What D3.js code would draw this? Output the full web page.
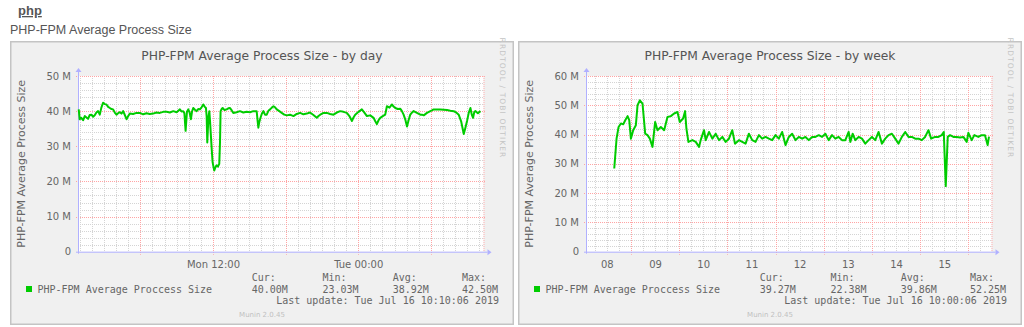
<!DOCTYPE html>
<html>
<head>
<meta charset="utf-8">
<script src="https://cdn.jsdelivr.net/npm/d3@7"></script>
<style>
  html, body { margin: 0; padding: 0; background: #ffffff; }
  svg { display: block; }
</style>
</head>
<body>
<svg id="chart" width="1024" height="327"></svg>
<script>
// ---------------- DATA ----------------
const pageTitle = "php";
const pageSubtitle = "PHP-FPM Average Process Size";
const seriesName = "PHP-FPM Average Proccess Size";
const yAxisTitle = "PHP-FPM Average Process Size";

// Day graph: hours since Mon 00:00, values in M
const dayTimes = [0.91, 0.99, 1.13, 1.27, 1.41, 1.55, 1.68, 1.82, 1.96, 2.10, 2.23, 2.37, 2.51, 2.65, 2.78, 2.92, 3.06, 3.20, 3.34, 3.48, 3.62, 3.75, 3.89, 4.03, 4.16, 4.30, 4.44, 4.58, 4.72, 4.86, 5.00, 5.13, 5.40, 5.68, 5.96, 6.23, 6.51, 6.78, 7.06, 7.33, 7.61, 7.89, 8.17, 8.44, 8.72, 9.00, 9.27, 9.40, 9.54, 9.64, 9.74, 9.85, 9.96, 10.07, 10.18, 10.27, 10.37, 10.51, 10.65, 10.78, 10.92, 11.06, 11.20, 11.31, 11.42, 11.48, 11.53, 11.62, 11.70, 11.76, 11.83, 11.90, 11.97, 12.04, 12.11, 12.20, 12.30, 12.41, 12.52, 12.58, 12.63, 12.72, 12.80, 12.96, 13.13, 13.27, 13.41, 13.55, 13.68, 13.96, 14.23, 14.51, 14.78, 15.06, 15.33, 15.61, 15.68, 15.75, 15.82, 15.89, 16.03, 16.17, 16.30, 16.44, 16.58, 16.72, 16.86, 17.00, 17.13, 17.27, 17.48, 17.68, 17.89, 18.10, 18.37, 18.65, 18.92, 19.20, 19.47, 19.75, 20.02, 20.30, 20.58, 20.72, 20.86, 21.13, 21.41, 21.68, 21.96, 22.23, 22.51, 22.78, 23.06, 23.27, 23.48, 23.61, 23.75, 24.03, 24.30, 24.51, 24.72, 24.99, 25.27, 25.40, 25.54, 25.68, 25.82, 26.03, 26.23, 26.30, 26.37, 26.58, 26.79, 26.92, 27.06, 27.27, 27.48, 27.61, 27.75, 27.89, 28.03, 28.16, 28.30, 28.44, 28.58, 28.85, 29.13, 29.27, 29.41, 29.68, 29.96, 30.09, 30.23, 30.51, 30.79, 31.06, 31.34, 31.61, 31.89, 32.10, 32.30, 32.51, 32.72, 32.85, 32.99, 33.13, 33.27, 33.38, 33.49, 33.59, 33.68, 33.89, 34.10];
const dayValues = [40.5, 37.7, 38.1, 37.4, 38.6, 38.2, 37.8, 38.9, 39.0, 38.4, 38.8, 39.6, 40.0, 39.0, 41.0, 42.4, 42.0, 41.9, 41.2, 40.9, 40.6, 40.5, 39.6, 39.0, 39.4, 39.7, 39.3, 40.0, 38.9, 37.7, 38.6, 39.3, 39.2, 39.5, 39.5, 39.1, 39.4, 39.2, 39.3, 39.6, 39.5, 39.8, 39.8, 39.6, 40.0, 39.7, 40.5, 39.9, 40.0, 39.4, 34.4, 39.8, 40.5, 39.6, 37.7, 39.9, 40.9, 40.4, 40.0, 40.6, 40.5, 41.1, 41.9, 41.3, 40.9, 38.5, 31.1, 38.0, 40.0, 37.0, 33.0, 29.0, 25.5, 24.2, 23.1, 24.0, 24.6, 24.2, 25.0, 31.0, 40.0, 40.6, 40.9, 40.3, 40.5, 40.8, 40.9, 40.2, 39.5, 39.7, 40.0, 39.6, 39.8, 39.7, 40.0, 40.0, 37.5, 35.3, 36.8, 37.7, 39.2, 40.0, 39.0, 39.0, 40.1, 40.5, 41.0, 41.4, 41.1, 40.5, 40.0, 39.5, 39.0, 38.8, 39.0, 38.6, 39.2, 39.5, 39.1, 39.3, 39.6, 38.9, 38.1, 38.6, 39.0, 39.5, 39.5, 39.2, 39.0, 39.6, 40.0, 39.8, 39.5, 38.6, 37.2, 38.2, 39.0, 39.8, 40.5, 39.6, 38.6, 38.8, 38.1, 37.2, 36.3, 37.4, 38.1, 38.6, 39.0, 40.2, 41.4, 41.0, 41.9, 41.3, 40.9, 40.6, 40.7, 40.0, 39.0, 37.6, 35.6, 37.4, 39.0, 39.6, 40.0, 39.5, 39.0, 39.0, 38.8, 39.5, 40.0, 40.2, 40.5, 40.5, 40.5, 40.4, 40.3, 40.1, 40.0, 39.6, 39.0, 37.0, 33.5, 35.2, 37.2, 39.5, 40.9, 39.0, 38.1, 39.8, 40.0, 39.4, 40.0];

// Week graph: days since Jul 08 00:00, values in M
const weekTimes = [0.655, 0.703, 0.745, 0.793, 0.841, 0.883, 0.931, 0.966, 1.0, 1.048, 1.103, 1.138, 1.186, 1.241, 1.297, 1.345, 1.393, 1.448, 1.503, 1.552, 1.621, 1.690, 1.759, 1.828, 1.897, 1.966, 2.014, 2.083, 2.124, 2.152, 2.193, 2.276, 2.345, 2.414, 2.448, 2.517, 2.552, 2.621, 2.690, 2.759, 2.828, 2.897, 2.966, 3.034, 3.103, 3.159, 3.241, 3.310, 3.379, 3.448, 3.517, 3.586, 3.655, 3.724, 3.793, 3.862, 3.931, 4.0, 4.069, 4.138, 4.207, 4.276, 4.345, 4.414, 4.483, 4.552, 4.621, 4.690, 4.759, 4.828, 4.897, 4.966, 5.034, 5.103, 5.172, 5.241, 5.310, 5.379, 5.448, 5.517, 5.552, 5.600, 5.655, 5.724, 5.793, 5.862, 5.931, 6.0, 6.069, 6.138, 6.207, 6.276, 6.345, 6.414, 6.483, 6.552, 6.621, 6.690, 6.759, 6.828, 6.897, 6.966, 7.034, 7.103, 7.172, 7.228, 7.310, 7.379, 7.448, 7.490, 7.531, 7.572, 7.621, 7.690, 7.759, 7.828, 7.897, 7.966, 8.0, 8.069, 8.124, 8.207, 8.276, 8.345, 8.400, 8.428];
const weekValues = [28.4, 38.6, 42.6, 43.8, 43.5, 44.9, 46.3, 44.9, 38.6, 41.5, 43.2, 50.0, 51.7, 50.6, 40.3, 39.8, 38.6, 35.8, 44.3, 41.5, 42.6, 41.5, 46.0, 46.3, 47.2, 47.7, 44.3, 45.5, 48.0, 42.0, 37.5, 38.1, 37.5, 35.8, 38.1, 41.5, 38.1, 40.9, 38.6, 40.3, 38.1, 39.2, 37.5, 38.6, 41.5, 36.9, 38.1, 37.5, 36.9, 40.3, 38.1, 37.5, 39.8, 38.6, 39.2, 38.6, 38.1, 39.8, 38.6, 40.9, 36.4, 39.2, 40.3, 38.1, 39.2, 38.6, 39.2, 38.1, 39.2, 39.2, 39.8, 39.2, 40.3, 38.1, 39.8, 38.6, 39.2, 38.1, 38.1, 40.9, 37.5, 40.3, 38.1, 39.2, 38.6, 36.9, 38.1, 39.2, 38.1, 40.9, 36.9, 38.6, 39.8, 40.3, 38.6, 36.9, 39.2, 40.9, 39.2, 39.2, 38.6, 38.6, 38.1, 39.2, 41.5, 38.6, 39.2, 39.2, 39.8, 40.9, 22.4, 39.2, 39.8, 39.2, 39.2, 39.0, 39.2, 37.5, 40.6, 38.1, 39.8, 39.2, 39.8, 39.8, 36.4, 39.27];

const dayTickValues = [12, 24];
const dayTickLabels = ["Mon 12:00", "Tue 00:00"];
const weekTickValues = [0.5, 1.5, 2.5, 3.5, 4.5, 5.5, 6.5, 7.5];
const weekTickLabels = ["08", "09", "10", "11", "12", "13", "14", "15"];

const statHeaders = ["Cur:", "Min:", "Avg:", "Max:"];
const dayStats = ["40.00M", "23.03M", "38.92M", "42.50M"];
const weekStats = ["39.27M", "22.38M", "39.86M", "52.25M"];
const dayLastUpdate = "Last update: Tue Jul 16 10:10:06 2019";
const weekLastUpdate = "Last update: Tue Jul 16 10:00:06 2019";

// ---------------- DRAWING ----------------
const svg = d3.select("#chart");

svg.append("text").attr("x", 18).attr("y", 15)
  .attr("font-family", "Liberation Sans, Arial, sans-serif")
  .attr("font-size", 13).attr("font-weight", "bold")
  .attr("fill", "#555").attr("text-decoration", "underline")
  .text(pageTitle);
svg.append("text").attr("x", 10).attr("y", 34)
  .attr("font-family", "Liberation Sans, Arial, sans-serif")
  .attr("font-size", 12.5).attr("fill", "#555")
  .text(pageSubtitle);

function drawPanel(cfg) {
  const g = svg.append("g").attr("transform", `translate(${cfg.left},41)`);
  const W = 504, H = 284;
  g.append("rect").attr("x", 0.75).attr("y", 0.75).attr("width", W - 1.5).attr("height", H - 1.5)
    .attr("fill", "#f0f0f0").attr("stroke", "#c4c4c4").attr("stroke-width", 1.5);

  const pL = 68, pR = 473.5, pT = 35, pB = 210.7;
  const x = d3.scaleLinear().domain(cfg.xDomain).range([pL, pR]);
  const y = d3.scaleLinear().domain([0, cfg.yMax]).range([pB, pT]);

  // title
  g.append("text").attr("x", 252).attr("y", 18.5).attr("text-anchor", "middle")
    .attr("font-family", "DejaVu Sans, sans-serif").attr("font-size", 12.3).attr("fill", "#555")
    .text(cfg.title);

  // watermark
  g.append("text").attr("transform", `translate(${490},${57}) rotate(90)`)
    .attr("text-anchor", "middle").attr("font-family", "DejaVu Sans, sans-serif")
    .attr("font-size", 7.5).attr("fill", "#c4c4c4").attr("letter-spacing", 1.1)
    .text("RRDTOOL / TOBI OETIKER");

  // canvas
  g.append("rect").attr("x", pL).attr("y", pT).attr("width", pR - pL).attr("height", pB - pT).attr("fill", "#ffffff");

  // minor grid
  const minorX = d3.range(Math.ceil(cfg.xDomain[0] / cfg.minorX) * cfg.minorX, cfg.xDomain[1], cfg.minorX)
    .filter(v => Math.abs(v / cfg.majorX - Math.round(v / cfg.majorX)) > 1e-6);
  g.append("g").selectAll("line").data(minorX).join("line")
    .attr("x1", d => Math.round(x(d)) + 0.5).attr("x2", d => Math.round(x(d)) + 0.5)
    .attr("y1", pT).attr("y2", pB)
    .attr("stroke", "#d4d4d4").attr("stroke-width", 1).attr("stroke-dasharray", "1,1");
  const minorY = d3.range(2, cfg.yMax, 2).filter(v => v % 10 !== 0);
  g.append("g").selectAll("line").data(minorY).join("line")
    .attr("x1", pL).attr("x2", pR)
    .attr("y1", d => Math.round(y(d)) + 0.5).attr("y2", d => Math.round(y(d)) + 0.5)
    .attr("stroke", "#d4d4d4").attr("stroke-width", 1).attr("stroke-dasharray", "1,1");

  // major grid
  const majorX = d3.range(Math.ceil(cfg.xDomain[0] / cfg.majorX) * cfg.majorX, cfg.xDomain[1], cfg.majorX);
  g.append("g").selectAll("line").data(majorX).join("line")
    .attr("x1", d => Math.round(x(d)) + 0.5).attr("x2", d => Math.round(x(d)) + 0.5)
    .attr("y1", pT).attr("y2", pB + 3)
    .attr("stroke", "#ffa4a4").attr("stroke-width", 1).attr("stroke-dasharray", "1,1");
  const majorY = d3.range(10, cfg.yMax + 1, 10);
  g.append("g").selectAll("line").data(majorY).join("line")
    .attr("x1", pL - 2).attr("x2", pR + 2)
    .attr("y1", d => Math.round(y(d)) + 0.5).attr("y2", d => Math.round(y(d)) + 0.5)
    .attr("stroke", "#ffa4a4").attr("stroke-width", 1).attr("stroke-dasharray", "1,1");
  // right edge
  g.append("line").attr("x1", pR + 0.5).attr("x2", pR + 0.5).attr("y1", pT).attr("y2", pB)
    .attr("stroke", "#ffb0b0").attr("stroke-dasharray", "1,1");

  // axes lines with arrows
  g.append("line").attr("x1", pL - 2).attr("x2", pR + 4).attr("y1", pB + 0.5).attr("y2", pB + 0.5)
    .attr("stroke", "#b0b0ff").attr("stroke-width", 1);
  g.append("path").attr("d", `M${pR + 4},${pB - 2.5} L${pR + 8},${pB + 0.5} L${pR + 4},${pB + 3.5} Z`).attr("fill", "#b0b0ff");
  g.append("line").attr("x1", pL + 0.5).attr("x2", pL + 0.5).attr("y1", pB + 2).attr("y2", pT - 4)
    .attr("stroke", "#b0b0ff").attr("stroke-width", 1);
  g.append("path").attr("d", `M${pL - 2.5},${pT - 4} L${pL + 0.5},${pT - 8} L${pL + 3.5},${pT - 4} Z`).attr("fill", "#b0b0ff");

  // y labels
  const yTicks = d3.range(0, cfg.yMax + 1, 10);
  g.append("g").selectAll("text").data(yTicks).join("text")
    .attr("x", 61).attr("y", d => y(d) + 3.5).attr("text-anchor", "end")
    .attr("font-family", "DejaVu Sans, sans-serif").attr("font-size", 10).attr("fill", "#666")
    .text(d => d === 0 ? "0" : d + " M");

  // x labels via axis
  const xAxis = d3.axisBottom(x).tickValues(cfg.tickValues).tickFormat((d, i) => cfg.tickLabels[i]).tickSize(0);
  const ax = g.append("g").attr("transform", `translate(0,${pB + 6})`).call(xAxis);
  ax.select(".domain").remove();
  ax.selectAll("text").attr("font-family", "DejaVu Sans, sans-serif").attr("font-size", 10).attr("fill", "#666");

  // y axis title
  g.append("text").attr("transform", `translate(${15},${(pT + pB) / 2}) rotate(-90)`)
    .attr("text-anchor", "middle").attr("font-family", "DejaVu Sans, sans-serif")
    .attr("font-size", 11).attr("fill", "#666").text(yAxisTitle);

  // data line
  const pts = cfg.times.map((t, i) => [t, cfg.values[i]]);
  g.append("path").datum(pts)
    .attr("d", d3.line().x(d => x(d[0])).y(d => y(d[1])))
    .attr("fill", "none").attr("stroke", "#00cc00").attr("stroke-width", 2).attr("stroke-linejoin", "round");

  // legend
  const mono = "DejaVu Sans Mono, monospace";
  const statX = [241.7, 312.5, 382.7, 452];
  g.append("g").selectAll("text").data(statHeaders).join("text")
    .attr("x", (d, i) => statX[i]).attr("y", 239.5)
    .attr("font-family", mono).attr("font-size", 10).attr("fill", "#666").text(d => d);
  g.append("rect").attr("x", 16).attr("y", 245).attr("width", 6).attr("height", 6).attr("fill", "#00cc00");
  g.append("text").attr("x", 27.5).attr("y", 251.5)
    .attr("font-family", mono).attr("font-size", 10).attr("fill", "#666").text(seriesName);
  g.append("g").selectAll("text").data(cfg.stats).join("text")
    .attr("x", (d, i) => statX[i]).attr("y", 251.5)
    .attr("font-family", mono).attr("font-size", 10).attr("fill", "#666").text(d => d);
  g.append("text").attr("x", 489).attr("y", 263).attr("text-anchor", "end")
    .attr("font-family", mono).attr("font-size", 10).attr("fill", "#666").text(cfg.lastUpdate);
  g.append("text").attr("x", 252).attr("y", 275.5).attr("text-anchor", "middle")
    .attr("font-family", "DejaVu Sans, sans-serif").attr("font-size", 7).attr("fill", "#c0c0c0").text("Munin 2.0.45");
}

drawPanel({
  left: 10, title: "PHP-FPM Average Process Size - by day",
  xDomain: [0.85, 34.35], yMax: 50, majorX: 6, minorX: 1,
  tickValues: dayTickValues, tickLabels: dayTickLabels,
  times: dayTimes, values: dayValues, stats: dayStats, lastUpdate: dayLastUpdate
});
drawPanel({
  left: 518, title: "PHP-FPM Average Process Size - by week",
  xDomain: [0.069, 8.48], yMax: 60, majorX: 1, minorX: 0.25,
  tickValues: weekTickValues, tickLabels: weekTickLabels,
  times: weekTimes, values: weekValues, stats: weekStats, lastUpdate: weekLastUpdate
});
</script>
</body>
</html>
